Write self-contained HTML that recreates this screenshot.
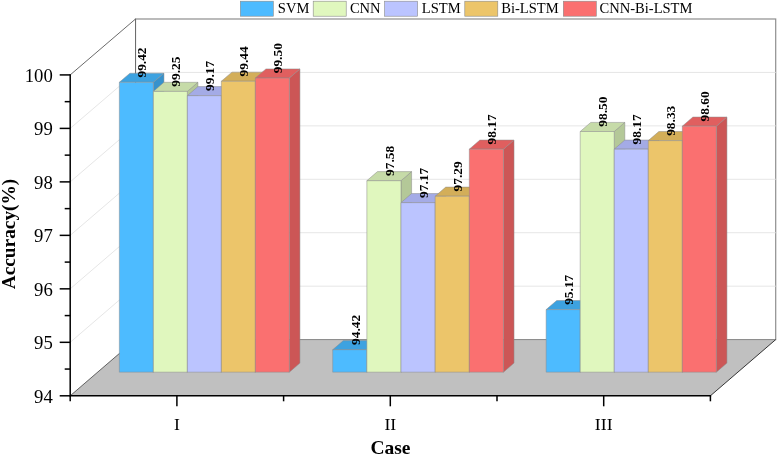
<!DOCTYPE html>
<html><head><meta charset="utf-8"><title>Accuracy by Case</title>
<style>html,body{margin:0;padding:0;background:#fff}svg{display:block}</style></head>
<body>
<svg width="777" height="456" viewBox="0 0 777 456">
<rect width="777" height="456" fill="#fff"/>
<rect x="135.50" y="19.00" width="640.20" height="320.60" fill="#fff" stroke="#8e8e8e" stroke-width="1.2"/>
<polygon points="70.20,74.92 135.50,19.00 135.50,339.60 70.20,395.80" fill="#fff" stroke="none"/>
<line x1="135.50" y1="72.43" x2="775.70" y2="72.43" stroke="#e6e6e6" stroke-width="1"/>
<line x1="70.20" y1="128.40" x2="135.50" y2="72.43" stroke="#e6e6e6" stroke-width="1"/>
<line x1="135.50" y1="125.87" x2="775.70" y2="125.87" stroke="#e6e6e6" stroke-width="1"/>
<line x1="70.20" y1="181.88" x2="135.50" y2="125.87" stroke="#e6e6e6" stroke-width="1"/>
<line x1="135.50" y1="179.30" x2="775.70" y2="179.30" stroke="#e6e6e6" stroke-width="1"/>
<line x1="70.20" y1="235.36" x2="135.50" y2="179.30" stroke="#e6e6e6" stroke-width="1"/>
<line x1="135.50" y1="232.73" x2="775.70" y2="232.73" stroke="#e6e6e6" stroke-width="1"/>
<line x1="70.20" y1="288.84" x2="135.50" y2="232.73" stroke="#e6e6e6" stroke-width="1"/>
<line x1="135.50" y1="286.17" x2="775.70" y2="286.17" stroke="#e6e6e6" stroke-width="1"/>
<line x1="70.20" y1="342.32" x2="135.50" y2="286.17" stroke="#e6e6e6" stroke-width="1"/>
<line x1="70.20" y1="74.92" x2="135.50" y2="19.00" stroke="#444" stroke-width="0.8"/>
<line x1="135.50" y1="19.00" x2="135.50" y2="339.60" stroke="#555" stroke-width="0.8"/>
<polygon points="70.20,395.80 710.40,395.80 775.70,339.60 135.50,339.60" fill="#C0C0C0" stroke="none"/>
<line x1="135.50" y1="339.60" x2="775.70" y2="339.60" stroke="#8c8c8c" stroke-width="1"/>
<line x1="710.40" y1="395.80" x2="775.70" y2="339.60" stroke="#222" stroke-width="0.9"/>
<line x1="70.20" y1="395.80" x2="135.50" y2="339.60" stroke="#444" stroke-width="0.8"/>
<polygon points="153.35,82.31 163.93,73.21 163.93,363.07 153.35,372.17" fill="#3792CC" stroke="#8a8a8a" stroke-width="0.5" stroke-linejoin="round"/>
<polygon points="119.35,82.31 129.93,73.21 163.93,73.21 153.35,82.31" fill="#3DA2E0" stroke="#8a8a8a" stroke-width="0.5" stroke-linejoin="round"/>
<rect x="119.35" y="82.31" width="34.00" height="289.86" fill="#4DBBFF" stroke="#8a8a8a" stroke-width="0.5" stroke-linejoin="round"/>
<polygon points="187.35,91.40 197.93,82.30 197.93,363.07 187.35,372.17" fill="#B4C898" stroke="#8a8a8a" stroke-width="0.5" stroke-linejoin="round"/>
<polygon points="153.35,91.40 163.93,82.30 197.93,82.30 187.35,91.40" fill="#C6DBA8" stroke="#8a8a8a" stroke-width="0.5" stroke-linejoin="round"/>
<rect x="153.35" y="91.40" width="34.00" height="280.77" fill="#E0F7BE" stroke="#8a8a8a" stroke-width="0.5" stroke-linejoin="round"/>
<polygon points="221.35,95.68 231.93,86.58 231.93,363.07 221.35,372.17" fill="#9299CC" stroke="#8a8a8a" stroke-width="0.5" stroke-linejoin="round"/>
<polygon points="187.35,95.68 197.93,86.58 231.93,86.58 221.35,95.68" fill="#A4ABE6" stroke="#8a8a8a" stroke-width="0.5" stroke-linejoin="round"/>
<rect x="187.35" y="95.68" width="34.00" height="276.49" fill="#BBC4FF" stroke="#8a8a8a" stroke-width="0.5" stroke-linejoin="round"/>
<polygon points="255.35,81.24 265.93,72.14 265.93,363.07 255.35,372.17" fill="#BD9C50" stroke="#8a8a8a" stroke-width="0.5" stroke-linejoin="round"/>
<polygon points="221.35,81.24 231.93,72.14 265.93,72.14 255.35,81.24" fill="#D3AE59" stroke="#8a8a8a" stroke-width="0.5" stroke-linejoin="round"/>
<rect x="221.35" y="81.24" width="34.00" height="290.93" fill="#ECC56A" stroke="#8a8a8a" stroke-width="0.5" stroke-linejoin="round"/>
<polygon points="289.35,78.03 299.93,68.93 299.93,363.07 289.35,372.17" fill="#CC5656" stroke="#8a8a8a" stroke-width="0.5" stroke-linejoin="round"/>
<polygon points="255.35,78.03 265.93,68.93 299.93,68.93 289.35,78.03" fill="#E05F5F" stroke="#8a8a8a" stroke-width="0.5" stroke-linejoin="round"/>
<rect x="255.35" y="78.03" width="34.00" height="294.14" fill="#FA7070" stroke="#8a8a8a" stroke-width="0.5" stroke-linejoin="round"/>
<polygon points="366.85,349.71 377.43,340.61 377.43,363.07 366.85,372.17" fill="#3792CC" stroke="#8a8a8a" stroke-width="0.5" stroke-linejoin="round"/>
<polygon points="332.70,349.71 343.28,340.61 377.43,340.61 366.85,349.71" fill="#3DA2E0" stroke="#8a8a8a" stroke-width="0.5" stroke-linejoin="round"/>
<rect x="332.70" y="349.71" width="34.15" height="22.46" fill="#4DBBFF" stroke="#8a8a8a" stroke-width="0.5" stroke-linejoin="round"/>
<polygon points="401.00,180.71 411.58,171.61 411.58,363.07 401.00,372.17" fill="#B4C898" stroke="#8a8a8a" stroke-width="0.5" stroke-linejoin="round"/>
<polygon points="366.85,180.71 377.43,171.61 411.58,171.61 401.00,180.71" fill="#C6DBA8" stroke="#8a8a8a" stroke-width="0.5" stroke-linejoin="round"/>
<rect x="366.85" y="180.71" width="34.15" height="191.46" fill="#E0F7BE" stroke="#8a8a8a" stroke-width="0.5" stroke-linejoin="round"/>
<polygon points="435.15,202.64 445.73,193.54 445.73,363.07 435.15,372.17" fill="#9299CC" stroke="#8a8a8a" stroke-width="0.5" stroke-linejoin="round"/>
<polygon points="401.00,202.64 411.58,193.54 445.73,193.54 435.15,202.64" fill="#A4ABE6" stroke="#8a8a8a" stroke-width="0.5" stroke-linejoin="round"/>
<rect x="401.00" y="202.64" width="34.15" height="169.53" fill="#BBC4FF" stroke="#8a8a8a" stroke-width="0.5" stroke-linejoin="round"/>
<polygon points="469.30,196.22 479.88,187.12 479.88,363.07 469.30,372.17" fill="#BD9C50" stroke="#8a8a8a" stroke-width="0.5" stroke-linejoin="round"/>
<polygon points="435.15,196.22 445.73,187.12 479.88,187.12 469.30,196.22" fill="#D3AE59" stroke="#8a8a8a" stroke-width="0.5" stroke-linejoin="round"/>
<rect x="435.15" y="196.22" width="34.15" height="175.95" fill="#ECC56A" stroke="#8a8a8a" stroke-width="0.5" stroke-linejoin="round"/>
<polygon points="503.45,149.16 514.03,140.06 514.03,363.07 503.45,372.17" fill="#CC5656" stroke="#8a8a8a" stroke-width="0.5" stroke-linejoin="round"/>
<polygon points="469.30,149.16 479.88,140.06 514.03,140.06 503.45,149.16" fill="#E05F5F" stroke="#8a8a8a" stroke-width="0.5" stroke-linejoin="round"/>
<rect x="469.30" y="149.16" width="34.15" height="223.01" fill="#FA7070" stroke="#8a8a8a" stroke-width="0.5" stroke-linejoin="round"/>
<polygon points="580.19,309.60 590.77,300.50 590.77,363.07 580.19,372.17" fill="#3792CC" stroke="#8a8a8a" stroke-width="0.5" stroke-linejoin="round"/>
<polygon points="546.15,309.60 556.73,300.50 590.77,300.50 580.19,309.60" fill="#3DA2E0" stroke="#8a8a8a" stroke-width="0.5" stroke-linejoin="round"/>
<rect x="546.15" y="309.60" width="34.04" height="62.57" fill="#4DBBFF" stroke="#8a8a8a" stroke-width="0.5" stroke-linejoin="round"/>
<polygon points="614.23,131.51 624.81,122.41 624.81,363.07 614.23,372.17" fill="#B4C898" stroke="#8a8a8a" stroke-width="0.5" stroke-linejoin="round"/>
<polygon points="580.19,131.51 590.77,122.41 624.81,122.41 614.23,131.51" fill="#C6DBA8" stroke="#8a8a8a" stroke-width="0.5" stroke-linejoin="round"/>
<rect x="580.19" y="131.51" width="34.04" height="240.66" fill="#E0F7BE" stroke="#8a8a8a" stroke-width="0.5" stroke-linejoin="round"/>
<polygon points="648.27,149.16 658.85,140.06 658.85,363.07 648.27,372.17" fill="#9299CC" stroke="#8a8a8a" stroke-width="0.5" stroke-linejoin="round"/>
<polygon points="614.23,149.16 624.81,140.06 658.85,140.06 648.27,149.16" fill="#A4ABE6" stroke="#8a8a8a" stroke-width="0.5" stroke-linejoin="round"/>
<rect x="614.23" y="149.16" width="34.04" height="223.01" fill="#BBC4FF" stroke="#8a8a8a" stroke-width="0.5" stroke-linejoin="round"/>
<polygon points="682.31,140.60 692.89,131.50 692.89,363.07 682.31,372.17" fill="#BD9C50" stroke="#8a8a8a" stroke-width="0.5" stroke-linejoin="round"/>
<polygon points="648.27,140.60 658.85,131.50 692.89,131.50 682.31,140.60" fill="#D3AE59" stroke="#8a8a8a" stroke-width="0.5" stroke-linejoin="round"/>
<rect x="648.27" y="140.60" width="34.04" height="231.57" fill="#ECC56A" stroke="#8a8a8a" stroke-width="0.5" stroke-linejoin="round"/>
<polygon points="716.35,126.16 726.93,117.06 726.93,363.07 716.35,372.17" fill="#CC5656" stroke="#8a8a8a" stroke-width="0.5" stroke-linejoin="round"/>
<polygon points="682.31,126.16 692.89,117.06 726.93,117.06 716.35,126.16" fill="#E05F5F" stroke="#8a8a8a" stroke-width="0.5" stroke-linejoin="round"/>
<rect x="682.31" y="126.16" width="34.04" height="246.01" fill="#FA7070" stroke="#8a8a8a" stroke-width="0.5" stroke-linejoin="round"/>
<text transform="translate(146.39,77.56) rotate(-90)" font-family="Liberation Serif, serif" font-weight="bold" font-size="13.4" fill="#000">99.42</text>
<text transform="translate(180.39,86.65) rotate(-90)" font-family="Liberation Serif, serif" font-weight="bold" font-size="13.4" fill="#000">99.25</text>
<text transform="translate(214.39,90.93) rotate(-90)" font-family="Liberation Serif, serif" font-weight="bold" font-size="13.4" fill="#000">99.17</text>
<text transform="translate(248.39,76.49) rotate(-90)" font-family="Liberation Serif, serif" font-weight="bold" font-size="13.4" fill="#000">99.44</text>
<text transform="translate(282.39,73.28) rotate(-90)" font-family="Liberation Serif, serif" font-weight="bold" font-size="13.4" fill="#000">99.50</text>
<text transform="translate(359.81,344.96) rotate(-90)" font-family="Liberation Serif, serif" font-weight="bold" font-size="13.4" fill="#000">94.42</text>
<text transform="translate(393.96,175.96) rotate(-90)" font-family="Liberation Serif, serif" font-weight="bold" font-size="13.4" fill="#000">97.58</text>
<text transform="translate(428.11,197.89) rotate(-90)" font-family="Liberation Serif, serif" font-weight="bold" font-size="13.4" fill="#000">97.17</text>
<text transform="translate(462.26,191.47) rotate(-90)" font-family="Liberation Serif, serif" font-weight="bold" font-size="13.4" fill="#000">97.29</text>
<text transform="translate(496.41,144.41) rotate(-90)" font-family="Liberation Serif, serif" font-weight="bold" font-size="13.4" fill="#000">98.17</text>
<text transform="translate(573.21,304.85) rotate(-90)" font-family="Liberation Serif, serif" font-weight="bold" font-size="13.4" fill="#000">95.17</text>
<text transform="translate(607.25,126.76) rotate(-90)" font-family="Liberation Serif, serif" font-weight="bold" font-size="13.4" fill="#000">98.50</text>
<text transform="translate(641.29,144.41) rotate(-90)" font-family="Liberation Serif, serif" font-weight="bold" font-size="13.4" fill="#000">98.17</text>
<text transform="translate(675.33,135.85) rotate(-90)" font-family="Liberation Serif, serif" font-weight="bold" font-size="13.4" fill="#000">98.33</text>
<text transform="translate(709.37,121.41) rotate(-90)" font-family="Liberation Serif, serif" font-weight="bold" font-size="13.4" fill="#000">98.60</text>
<line x1="70.20" y1="74.17" x2="70.20" y2="396.55" stroke="#000" stroke-width="1.5"/>
<line x1="70.20" y1="395.80" x2="711.15" y2="395.80" stroke="#000" stroke-width="1.5"/>
<line x1="59.70" y1="395.80" x2="70.20" y2="395.80" stroke="#000" stroke-width="1.5"/>
<text x="52.8" y="402.50" text-anchor="end" font-family="Liberation Serif, serif" font-size="18.7" fill="#000">94</text>
<line x1="64.70" y1="369.06" x2="70.20" y2="369.06" stroke="#000" stroke-width="1.5"/>
<line x1="59.70" y1="342.32" x2="70.20" y2="342.32" stroke="#000" stroke-width="1.5"/>
<text x="52.8" y="349.02" text-anchor="end" font-family="Liberation Serif, serif" font-size="18.7" fill="#000">95</text>
<line x1="64.70" y1="315.58" x2="70.20" y2="315.58" stroke="#000" stroke-width="1.5"/>
<line x1="59.70" y1="288.84" x2="70.20" y2="288.84" stroke="#000" stroke-width="1.5"/>
<text x="52.8" y="295.54" text-anchor="end" font-family="Liberation Serif, serif" font-size="18.7" fill="#000">96</text>
<line x1="64.70" y1="262.10" x2="70.20" y2="262.10" stroke="#000" stroke-width="1.5"/>
<line x1="59.70" y1="235.36" x2="70.20" y2="235.36" stroke="#000" stroke-width="1.5"/>
<text x="52.8" y="242.06" text-anchor="end" font-family="Liberation Serif, serif" font-size="18.7" fill="#000">97</text>
<line x1="64.70" y1="208.62" x2="70.20" y2="208.62" stroke="#000" stroke-width="1.5"/>
<line x1="59.70" y1="181.88" x2="70.20" y2="181.88" stroke="#000" stroke-width="1.5"/>
<text x="52.8" y="188.58" text-anchor="end" font-family="Liberation Serif, serif" font-size="18.7" fill="#000">98</text>
<line x1="64.70" y1="155.14" x2="70.20" y2="155.14" stroke="#000" stroke-width="1.5"/>
<line x1="59.70" y1="128.40" x2="70.20" y2="128.40" stroke="#000" stroke-width="1.5"/>
<text x="52.8" y="135.10" text-anchor="end" font-family="Liberation Serif, serif" font-size="18.7" fill="#000">99</text>
<line x1="64.70" y1="101.66" x2="70.20" y2="101.66" stroke="#000" stroke-width="1.5"/>
<line x1="59.70" y1="74.92" x2="70.20" y2="74.92" stroke="#000" stroke-width="1.5"/>
<text x="52.8" y="81.62" text-anchor="end" font-family="Liberation Serif, serif" font-size="18.7" fill="#000">100</text>
<line x1="176.90" y1="395.80" x2="176.90" y2="406.30" stroke="#000" stroke-width="1.5"/>
<text x="176.90" y="429.8" text-anchor="middle" font-family="Liberation Serif, serif" font-size="17.7" fill="#000">I</text>
<line x1="390.30" y1="395.80" x2="390.30" y2="406.30" stroke="#000" stroke-width="1.5"/>
<text x="390.30" y="429.8" text-anchor="middle" font-family="Liberation Serif, serif" font-size="17.7" fill="#000">II</text>
<line x1="603.70" y1="395.80" x2="603.70" y2="406.30" stroke="#000" stroke-width="1.5"/>
<text x="603.70" y="429.8" text-anchor="middle" font-family="Liberation Serif, serif" font-size="17.7" fill="#000">III</text>
<line x1="70.20" y1="395.80" x2="70.20" y2="401.30" stroke="#000" stroke-width="1.5"/>
<line x1="283.60" y1="395.80" x2="283.60" y2="401.30" stroke="#000" stroke-width="1.5"/>
<line x1="497.00" y1="395.80" x2="497.00" y2="401.30" stroke="#000" stroke-width="1.5"/>
<line x1="710.40" y1="395.80" x2="710.40" y2="401.30" stroke="#000" stroke-width="1.5"/>
<text x="390.5" y="454" text-anchor="middle" font-family="Liberation Serif, serif" font-weight="bold" font-size="19.5" fill="#000">Case</text>
<text transform="translate(14.8,234) rotate(-90)" text-anchor="middle" font-family="Liberation Serif, serif" font-weight="bold" font-size="19.35" fill="#000">Accuracy(%)</text>
<rect x="240.30" y="1.2" width="33" height="15" fill="#4DBBFF" stroke="#8a8a8a" stroke-width="0.6"/>
<text x="277.80" y="12.9" font-family="Liberation Serif, serif" font-size="14.55" fill="#000">SVM</text>
<rect x="313.20" y="1.2" width="33" height="15" fill="#E0F7BE" stroke="#8a8a8a" stroke-width="0.6"/>
<text x="349.90" y="12.9" font-family="Liberation Serif, serif" font-size="14.55" fill="#000">CNN</text>
<rect x="384.60" y="1.2" width="33" height="15" fill="#BBC4FF" stroke="#8a8a8a" stroke-width="0.6"/>
<text x="421.80" y="12.9" font-family="Liberation Serif, serif" font-size="14.55" fill="#000">LSTM</text>
<rect x="464.80" y="1.2" width="33" height="15" fill="#ECC56A" stroke="#8a8a8a" stroke-width="0.6"/>
<text x="501.20" y="12.9" font-family="Liberation Serif, serif" font-size="14.55" fill="#000">Bi-LSTM</text>
<rect x="563.30" y="1.2" width="33" height="15" fill="#FA7070" stroke="#8a8a8a" stroke-width="0.6"/>
<text x="599.50" y="12.9" font-family="Liberation Serif, serif" font-size="14.55" fill="#000">CNN-Bi-LSTM</text>
</svg>
</body></html>
